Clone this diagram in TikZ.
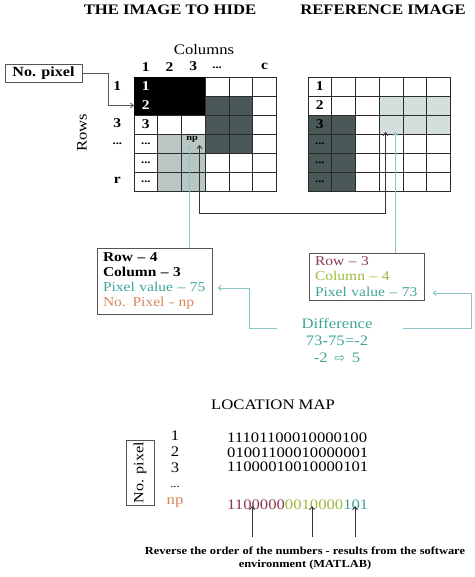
\documentclass[tikz,border=0pt]{standalone}
\usepackage{fontspec}
\setmainfont{Liberation Serif}[FakeStretch=1.15]
\newfontfamily\dejavu{DejaVu Sans}
\usetikzlibrary{arrows.meta}
\definecolor{dk}{HTML}{4A5858}
\definecolor{lg}{HTML}{B9C6C3}
\definecolor{lgr}{HTML}{D3DEDD}
\definecolor{tealL}{HTML}{8CC6C6}
\definecolor{tealT}{HTML}{3FA596}
\definecolor{maroon}{HTML}{8A3A4C}
\definecolor{lime}{HTML}{9CBC3C}
\definecolor{orng}{HTML}{D4895A}
\definecolor{ln}{HTML}{2A2A2A}
\definecolor{bx}{HTML}{555555}
\tikzset{
  gridl/.style={draw=ln, line width=0.9pt},
  txt/.style={inner sep=0pt, font=\fontsize{14.5}{16}\selectfont},
  btxt/.style={inner sep=0pt, font=\bfseries\fontsize{14.5}{16}\selectfont},
  cell/.style={inner sep=0pt, font=\bfseries\fontsize{13.5}{15}\selectfont},
  dots/.style={inner sep=0pt, font=\bfseries\fontsize{11}{12}\selectfont},
  infobox/.style={draw=bx, line width=0.9pt, align=left, inner xsep=6pt, inner ysep=0pt},
  tline/.style={draw=tealL, line width=1pt},
  kline/.style={draw=black!80, line width=0.8pt},
  tip/.style={-{Straight Barb[length=3pt,width=5pt]}},
}
\begin{document}
\begin{tikzpicture}[x=1pt,y=-1pt]
\useasboundingbox (0,0) rectangle (474,577);

% titles
\node[btxt] (t1) at (170,10) {THE IMAGE TO HIDE};
\node[btxt] (t2) at (383,10) {REFERENCE IMAGE};
\node[txt] (cols) at (204,50) {Columns};
\node[txt, rotate=90] (rows) at (82,133) {Rows};

% left grid
\begin{scope}[shift={(134,77)}, x=23.75pt, y=-19pt]
  \fill[dk] (3,1) rectangle (5,4);
  \fill[lg] (1,3) rectangle (3,6);
  \foreach \i in {0,...,6} {
    \draw[gridl] (\i,0) -- (\i,6);
    \draw[gridl] (0,\i) -- (6,\i);
  }
  \fill[black] (0,0) rectangle (3,2);
  \node[cell, text=white] (l1) at (0.5,0.5) {1};
  \node[cell, text=white] (l2) at (0.5,1.5) {2};
  \node[cell] (l3) at (0.5,2.5) {3};
  \node[dots] (l4) at (0.5,3.5) {...};
  \node[dots] (l5) at (0.5,4.5) {...};
  \node[dots] (l6) at (0.5,5.5) {...};
  \node[inner sep=0pt, font=\bfseries\fontsize{9}{10}\selectfont] (np) at (2.45,3.3) {np};
  % column headers
  \node[cell] (c1) at (0.5,-0.55) {1};
  \node[cell] (c2) at (1.5,-0.55) {2};
  \node[cell] (c3) at (2.5,-0.55) {3};
  \node[dots] (c4) at (3.5,-0.5) {...};
  \node[cell] (c6) at (5.5,-0.55) {c};
  % row headers
  \node[cell] (r1) at (-0.7,0.45) {1};
  \node[cell] (r3) at (-0.7,2.45) {3};
  \node[dots] (r4) at (-0.7,3.5) {...};
  \node[cell] (r6) at (-0.7,5.45) {r};
  \coordinate (g2) at (0,1.5);
\end{scope}

% right grid
\begin{scope}[shift={(308,77)}, x=23.75pt, y=-19pt]
  \fill[dk] (0,2) rectangle (2,6);
  \fill[lgr] (3,1) rectangle (6,3);
  \foreach \i in {0,...,6} {
    \draw[gridl] (\i,0) -- (\i,6);
    \draw[gridl] (0,\i) -- (6,\i);
  }
  \node[cell] (m1) at (0.5,0.5) {1};
  \node[cell] (m2) at (0.5,1.5) {2};
  \node[cell] (m3) at (0.5,2.5) {3};
  \node[dots] (m4) at (0.5,3.5) {...};
  \node[dots] (m5) at (0.5,4.5) {...};
  \node[dots] (m6) at (0.5,5.5) {...};
\end{scope}

% No. pixel box
\node[draw=bx, line width=0.9pt, minimum width=77pt, minimum height=18pt, inner sep=0pt,
      font=\bfseries\fontsize{14}{16}\selectfont] (nbox) at (43.5,73) {No. pixel};
\draw[draw=bx, line width=0.8pt, tip] (nbox.east) -| (108,105.5) -- (g2);

% arrow end points
\coordinate (npT) at (189,145);
\coordinate (npB) at (199.5,145);
\coordinate (refB) at (385.5,132);
\coordinate (refT) at (395.5,132);

% info boxes
\node[infobox, minimum width=115pt, minimum height=66pt, text width=103pt,
      font=\fontsize{13.5}{14.7}\selectfont] (lbox) at (154.5,281)
  {\textbf{Row -- 4}\\ \textbf{Column -- 3}\\ \textcolor{tealT}{Pixel value -- 75}\\ \textcolor{orng}{No. Pixel - np}};
\node[infobox, minimum width=115pt, minimum height=47pt, text width=103pt,
      font=\fontsize{13.5}{15.5}\selectfont] (rbox) at (366.5,276.5)
  {\textcolor{maroon}{Row -- 3}\\ \textcolor{lime}{Column -- 4}\\ \textcolor{tealT}{Pixel value -- 73}};

% connectors grid <-> boxes
\draw[tline, tip] (lbox.north -| npT) -- (npT);
\draw[tline, tip] (rbox.north -| refT) -- (refT);
\draw[kline, {Straight Barb[length=3pt,width=5pt]}-{Straight Barb[length=3pt,width=5pt]}]
  (npB) -- (npB |- 0,213) -| (refB);

% difference
\node[align=center, text=tealT, inner sep=0pt, font=\fontsize{14.5}{17}\selectfont] (diff) at (337,340)
  {Difference\\ 73-75=-2\\ -2 \,{\dejavu\fontsize{13}{14}\selectfont ⇨}\, 5};
\coordinate (dL) at (277,328);
\coordinate (dR) at (403,328);
\draw[tline, tip] (dL) -| (249,288) -- ([xshift=5pt]lbox.east |- 0,288);
\draw[tline, tip] (dR) -| (471,293) -- ([xshift=8pt]rbox.east |- 0,293);

% location map
\node[txt] (lmap) at (273,405) {LOCATION MAP};
\node[draw=bx, line width=0.9pt, rotate=90, minimum width=65pt, minimum height=28pt, inner sep=0pt,
      font=\fontsize{14}{16}\selectfont] (vbox) at (140,472.5) {No. pixel};
\node[txt] (n1) at (175,436) {1};
\node[txt] (n2) at (175,452) {2};
\node[txt] (n3) at (175,468) {3};
\node[txt, font=\fontsize{11}{12}\selectfont] (n4) at (175,487) {...};
\node[txt, text=orng] (n5) at (175,503) {np};
\node[txt, anchor=west] (s1) at (227,438) {11101100010000100};
\node[txt, anchor=west] (s2) at (227,453) {01001100010000001};
\node[txt, anchor=west] (s3) at (227,467) {11000010010000101};
\node[txt, anchor=west] (s4) at (227,505) {\textcolor{maroon}{1100000}\textcolor{lime}{0010000}\textcolor{tealT}{101}};
\coordinate (a1) at (252,537);
\coordinate (a2) at (312,537);
\coordinate (a3) at (355,537);
\draw[kline, tip] (a1) -- ([yshift=4pt]a1 |- s4.south);
\draw[kline, tip] (a2) -- ([yshift=4pt]a2 |- s4.south);
\draw[kline, tip] (a3) -- ([yshift=4pt]a3 |- s4.south);
\node[align=center, inner sep=0pt, font=\bfseries\fontsize{10.8}{13}\selectfont] (note) at (305,558)
  {Reverse the order of the numbers - results from the software\\ environment (MATLAB)};
\end{tikzpicture}
\end{document}
